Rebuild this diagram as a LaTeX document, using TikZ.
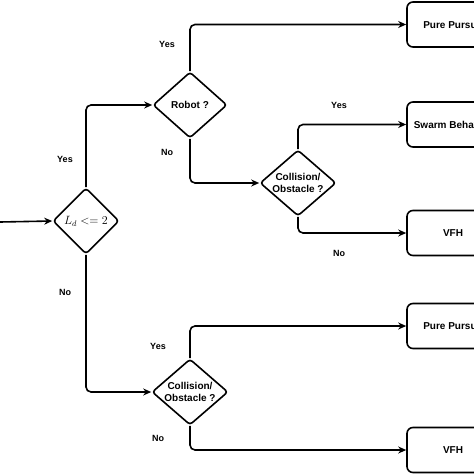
\documentclass[tikz,border=0pt]{standalone}
\usepackage{fontspec}
\setsansfont{Liberation Sans}
\usetikzlibrary{shapes.geometric,arrows.meta}
\begin{document}
\begin{tikzpicture}[x=1pt, y=-1pt, line width=1.6pt,
    dec/.style = {draw, diamond, aspect=1.15, inner sep=0pt, rounded corners=3pt,
                  font=\sffamily\bfseries\fontsize{10}{12}\selectfont, align=center},
    act/.style = {draw, rectangle, rounded corners=6pt, minimum width=92pt, minimum height=45pt,
                  font=\sffamily\bfseries\fontsize{10}{12}\selectfont},
    ans/.style = {font=\sffamily\bfseries\fontsize{9}{11}\selectfont},
    flow/.style = {-{Stealth[length=8pt,width=7pt]}, rounded corners=5pt}]
    \useasboundingbox (0,0) rectangle (474,474);
    \coordinate (in) at (0,222);
    \node[dec, minimum width=66pt, minimum height=66pt, font=\fontsize{11.5}{13}\selectfont] (d) at (86,221) {$L_d <= 2$};
    \node[dec, minimum width=74pt, minimum height=66pt] (robot) at (190,105) {Robot ?};
    \node[dec, minimum width=76pt, minimum height=66pt] (col1) at (298,183) {Collision/\\Obstacle ?};
    \node[dec, minimum width=76pt, minimum height=66pt] (col2) at (190,392) {Collision/\\Obstacle ?};
    \node[act] (pp1) at (453,24.5) {Pure Pursuit};
    \node[act] (swarm) at (453,124.5) {Swarm Behavior};
    \node[act] (vfh1) at (453,233) {VFH};
    \node[act] (pp2) at (453,326) {Pure Pursuit};
    \node[act] (vfh2) at (453,450) {VFH};
    \draw[flow] (in) -- (d.west);
    \draw[flow] (d.north) |- (robot.west);
    \draw[flow] (d.south) |- (col2.west);
    \draw[flow] (robot.north) |- (pp1.west);
    \draw[flow] (robot.south) |- (col1.west);
    \draw[flow] (col1.north) |- (swarm.west);
    \draw[flow] (col1.south) |- (vfh1.west);
    \draw[flow] (col2.north) |- (pp2.west);
    \draw[flow] (col2.south) |- (vfh2.west);
    \node[ans] (y1) at (65,159) {Yes};
    \node[ans] (n1) at (65,292) {No};
    \node[ans] (y2) at (167,44) {Yes};
    \node[ans] (n2) at (167,152) {No};
    \node[ans] (y3) at (339,105) {Yes};
    \node[ans] (n3) at (339,253) {No};
    \node[ans] (y4) at (158,346) {Yes};
    \node[ans] (n4) at (158,438) {No};
\end{tikzpicture}
\end{document}
